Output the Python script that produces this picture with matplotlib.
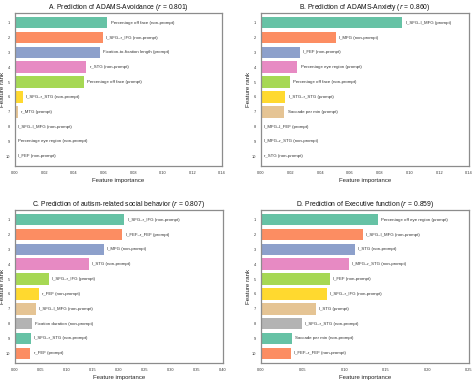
import numpy as np
import matplotlib
matplotlib.use("Agg")
import matplotlib.pyplot as plt

plt.rcParams['font.family'] = ['Liberation Sans', 'DejaVu Sans']

ranks = list(range(1, 11))

# A. ADAMS-Avoidance
a_vals = [0.0623, 0.0592, 0.0572, 0.0482, 0.0464, 0.0052, 0.0018, 0.0, 0.0, 0.0]
a_names = ["Percentage off face (non-prompt)", "l_SFG\u2013r_IFG (non-prompt)",
           "Fixation-to-fixation length (prompt)", "r_STG (non-prompt)",
           "Percentage off face (prompt)", "l_SFG\u2013r_STG (non-prompt)",
           "r_MTG (prompt)", "l_SFG\u2013l_MFG (non-prompt)",
           "Percentage eye region (non-prompt)", "l_FEF (non-prompt)"]

# B. ADAMS-Anxiety
b_vals = [0.0951, 0.0503, 0.0262, 0.0245, 0.0193, 0.0164, 0.0155, 0.0, 0.0, 0.0]
b_names = ["l_SFG\u2013l_MFG (prompt)", "l_MFG (non-prompt)", "l_FEF (non-prompt)",
           "Percentage eye region (prompt)", "Percentage off face (non-prompt)",
           "l_STG\u2013r_STG (prompt)", "Saccade per min (prompt)",
           "l_MFG\u2013l_FEF (prompt)", "l_MFG\u2013r_STG (non-prompt)",
           "r_STG (non-prompt)"]

# C. autism-related social behavior
c_vals = [0.210, 0.206, 0.1705, 0.142, 0.065, 0.0455, 0.040, 0.0327, 0.0308, 0.0295]
c_names = ["l_SFG\u2013r_IFG (non-prompt)", "l_FEF\u2013r_FEF (prompt)",
           "l_MFG (non-prompt)", "l_STG (non-prompt)", "l_SFG\u2013r_IFG (prompt)",
           "r_FEF (non-prompt)", "l_SFG\u2013l_MFG (non-prompt)",
           "Fixation duration (non-prompt)", "l_SFG\u2013r_STG (non-prompt)",
           "r_FEF (prompt)"]

# D. Executive function
d_vals = [0.1406, 0.1226, 0.1126, 0.1058, 0.0829, 0.0789, 0.0657, 0.0489, 0.0369, 0.0357]
d_names = ["Percentage off eye region (prompt)", "l_SFG\u2013l_MFG (non-prompt)",
           "l_STG (non-prompt)", "l_MFG\u2013r_STG (non-prompt)", "l_FEF (non-prompt)",
           "l_SFG\u2013r_IFG (non-prompt)", "l_STG (prompt)",
           "l_SFG\u2013r_STG (non-prompt)", "Saccade per min (non-prompt)",
           "l_FEF\u2013r_FEF (non-prompt)"]

titles = ["A. Prediction of ADAMS-Avoidance ($\\it{r}$ = 0.801)",
          "B. Prediction of ADAMS-Anxiety ($\\it{r}$ = 0.860)",
          "C. Prediction of autism-related social behavior ($\\it{r}$ = 0.807)",
          "D. Prediction of Executive function ($\\it{r}$ = 0.859)"]
xmaxes = [0.14, 0.14, 0.40, 0.25]
xsteps = [0.02, 0.02, 0.05, 0.05]

set2 = ["#66c2a5", "#fc8d62", "#8da0cb", "#e78ac3", "#a6d854", "#ffd92f", "#e5c494", "#b3b3b3"]
colors = [set2[i % 8] for i in range(10)]

fig = plt.figure(figsize=(4.74, 3.86), dpi=100)
W, H = 474, 386
boxes = [(15, 13, 222, 166), (261, 13, 469, 166), (15, 210, 223, 363), (261, 210, 469, 363)]

panels = [(a_vals, a_names), (b_vals, b_names), (c_vals, c_names), (d_vals, d_names)]
for k, ((vals, names), box) in enumerate(zip(panels, boxes)):
    x0, y0, x1, y1 = box
    ax = fig.add_axes([x0 / W, 1 - y1 / H, (x1 - x0) / W, (y1 - y0) / H])
    y = np.arange(len(vals))
    ax.barh(y, vals, height=0.78, color=colors)
    for yi, v, n in zip(y, vals, names):
        ax.annotate(n, (v, yi), xytext=(2.5, 0), textcoords="offset points",
                    va="center", ha="left", fontsize=3.2, color="#333333")
    ax.set_yticks(y)
    ax.set_yticklabels([str(r) for r in ranks])
    ax.set_ylim(len(vals) - 0.5 + 0.15, -0.5 - 0.15)
    ax.set_xlim(0, xmaxes[k])
    ticks = np.arange(0, xmaxes[k] + 1e-9, xsteps[k])
    ax.set_xticks(ticks)
    ax.set_xticklabels([f"{t:.2f}" for t in ticks])
    ax.tick_params(axis="both", length=0, labelsize=2.8, pad=3.5, colors="#333333")
    ax.set_xlabel("Feature importance", fontsize=4.3, labelpad=2.5, color="#222222")
    ax.set_ylabel("Feature rank", fontsize=4.5, labelpad=0.8, color="#222222")
    ax.set_title(titles[k], fontsize=4.9, pad=1.5, color="#111111")
    for s in ax.spines.values():
        s.set_color("#8c8c8c")
        s.set_linewidth(0.9)

fig.savefig("out.png", dpi=100)
